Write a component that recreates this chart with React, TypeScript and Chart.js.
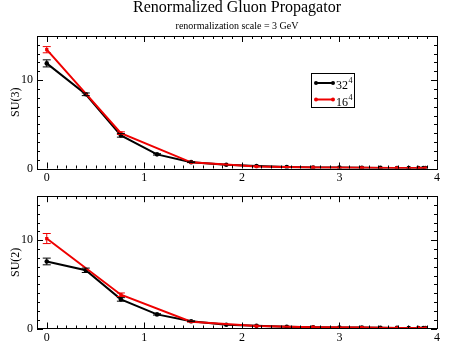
import React, { useEffect, useRef } from 'react';
import { Chart, registerables } from 'chart.js';

Chart.register(...registerables);

const FONT = "'Liberation Serif', 'DejaVu Serif', 'Times New Roman', serif";

const titleText = 'Renormalized Gluon Propagator';
const subtitleText = 'renormalization scale = 3 GeV';
const legendBases = ['32', '16'];
const legendSup = '4';

const xTicks = [0, 1, 2, 3, 4];
const yTicks = [0, 10];

// momenta for the two lattices
const momentum32 = [0, 0.4, 0.76, 1.13, 1.48, 1.84, 2.15, 2.46, 2.73, 3.0, 3.23, 3.42, 3.59, 3.71, 3.81, 3.86, 3.88];
const momentum16 = [0, 0.76, 1.48, 2.15, 2.73, 3.23, 3.59, 3.81, 3.88];

// SU(3)
const su3_32 = [11.9, 8.4, 3.75, 1.6, 0.72, 0.42, 0.27, 0.16, 0.12, 0.1, 0.08, 0.07, 0.06, 0.05, 0.05, 0.05, 0.05];
const su3_32_err = [0.4, 0.15, 0.2, 0.08, 0.04, 0, 0, 0, 0, 0, 0, 0, 0, 0, 0, 0, 0];
const su3_16 = [13.45, 4.0, 0.7, 0.22, 0.12, 0.08, 0.06, 0.05, 0.05];
const su3_16_err = [0.35, 0.15, 0.04, 0, 0, 0, 0, 0, 0];

// SU(2)
const su2_32 = [7.6, 6.6, 3.3, 1.6, 0.82, 0.42, 0.3, 0.2, 0.15, 0.12, 0.1, 0.08, 0.07, 0.06, 0.06, 0.05, 0.05];
const su2_32_err = [0.38, 0.25, 0.2, 0.08, 0.04, 0, 0, 0, 0, 0, 0, 0, 0, 0, 0, 0, 0];
const su2_16 = [10.2, 3.83, 0.77, 0.28, 0.15, 0.1, 0.07, 0.06, 0.05];
const su2_16_err = [0.57, 0.2, 0.05, 0, 0, 0, 0, 0, 0];

const BLACK = '#000000';
const RED = '#ee0000';

const decorPlugin = {
  id: 'decor',
  afterDatasetsDraw(chart: any, _args: any, opts: any) {
    const { ctx, chartArea: a, scales } = chart;
    const xs = scales.x;
    const ys = scales.y;
    ctx.save();
    // error bars
    chart.data.datasets.forEach((ds: any) => {
      const errs = ds.errors;
      if (!errs) return;
      ctx.strokeStyle = ds.borderColor;
      ctx.lineWidth = 1;
      ds.data.forEach((p: any, j: number) => {
        const e = errs[j];
        if (!e) return;
        const px = xs.getPixelForValue(p.x);
        const y1 = ys.getPixelForValue(p.y + e);
        const y2 = ys.getPixelForValue(p.y - e);
        ctx.beginPath();
        ctx.moveTo(px, y1);
        ctx.lineTo(px, y2);
        ctx.moveTo(px - 4, y1);
        ctx.lineTo(px + 4, y1);
        ctx.moveTo(px - 4, y2);
        ctx.lineTo(px + 4, y2);
        ctx.stroke();
      });
    });
    // frame
    ctx.strokeStyle = '#000';
    ctx.lineWidth = 1;
    ctx.strokeRect(Math.round(a.left) + 0.5, Math.round(a.top) + 0.5, Math.round(a.right - a.left), Math.round(a.bottom - a.top));
    // ticks
    ctx.beginPath();
    for (let i = 0; i <= 40; i++) {
      const v = i / 10;
      const len = i % 10 === 0 ? 6 : 3;
      const px = Math.round(xs.getPixelForValue(v)) + 0.5;
      ctx.moveTo(px, a.bottom);
      ctx.lineTo(px, a.bottom - len);
      ctx.moveTo(px, a.top);
      ctx.lineTo(px, a.top + len);
    }
    for (let i = 0; i <= 15; i++) {
      const len = i % 10 === 0 ? 6 : 3;
      const py = Math.round(ys.getPixelForValue(i)) + 0.5;
      ctx.moveTo(a.left, py);
      ctx.lineTo(a.left + len, py);
      ctx.moveTo(a.right, py);
      ctx.lineTo(a.right - len, py);
    }
    ctx.stroke();

    if (opts && opts.header) {
      ctx.fillStyle = '#000';
      ctx.textAlign = 'center';
      ctx.textBaseline = 'alphabetic';
      ctx.font = `16px ${FONT}`;
      ctx.fillText(titleText, (a.left + a.right) / 2, 12);
      ctx.font = `10px ${FONT}`;
      ctx.fillText(subtitleText, (a.left + a.right) / 2, 29);
    }
    if (opts && opts.legend) {
      const bx = 311, by = 73, bw = 43, bh = 34;
      ctx.lineWidth = 1;
      ctx.strokeStyle = '#000';
      ctx.strokeRect(bx + 0.5, by + 0.5, bw, bh);
      const rows = [
        { color: BLACK, y: 83, base: legendBases[0] },
        { color: RED, y: 99.5, base: legendBases[1] },
      ];
      rows.forEach((r) => {
        ctx.strokeStyle = r.color;
        ctx.fillStyle = r.color;
        ctx.lineWidth = 2;
        ctx.beginPath();
        ctx.moveTo(316, r.y);
        ctx.lineTo(333, r.y);
        ctx.stroke();
        [316, 333].forEach((cx) => {
          ctx.beginPath();
          ctx.arc(cx, r.y, 2, 0, Math.PI * 2);
          ctx.fill();
        });
        ctx.fillStyle = '#000';
        ctx.textAlign = 'left';
        ctx.textBaseline = 'alphabetic';
        ctx.font = `12px ${FONT}`;
        ctx.fillText(r.base, 336, r.y + 6);
        const w = ctx.measureText(r.base).width;
        ctx.font = `8px ${FONT}`;
        ctx.fillText(legendSup, 336 + w + 0.5, r.y);
      });
    }
    ctx.restore();
  },
};

function makeConfig(p: {
  yLabel: string;
  s32: number[];
  e32: number[];
  s16: number[];
  e16: number[];
  padTop: number;
  xAxisH: number;
  header: boolean;
  legend: boolean;
}): any {
  return {
    type: 'line',
    data: {
      datasets: [
        {
          label: '16^4',
          data: momentum16.map((x, i) => ({ x, y: p.s16[i] })),
          errors: p.e16,
          borderColor: RED,
          backgroundColor: RED,
          borderWidth: 2,
          pointStyle: 'rect',
          pointRadius: 2.3,
          pointBorderWidth: 0,
          tension: 0,
        },
        {
          label: '32^4',
          data: momentum32.map((x, i) => ({ x, y: p.s32[i] })),
          errors: p.e32,
          borderColor: BLACK,
          backgroundColor: BLACK,
          borderWidth: 2,
          pointStyle: 'circle',
          pointRadius: 2.3,
          pointBorderWidth: 0,
          tension: 0,
        },
      ],
    },
    options: {
      responsive: false,
      animation: false,
      devicePixelRatio: 1,
      layout: { padding: { top: p.padTop, right: 37, left: 0, bottom: 0 } },
      plugins: {
        legend: { display: false },
        tooltip: { enabled: false },
        decor: { header: p.header, legend: p.legend },
      },
      scales: {
        x: {
          type: 'linear',
          min: -0.1,
          max: 4,
          grid: { display: false, drawTicks: false },
          border: { display: false },
          ticks: { font: { family: FONT, size: 12 }, color: '#000', padding: 2, maxRotation: 0 },
          afterBuildTicks: (s: any) => {
            s.ticks = xTicks.map((v) => ({ value: v }));
          },
          afterFit: (s: any) => {
            s.height = p.xAxisH;
          },
        },
        y: {
          type: 'linear',
          min: 0,
          max: 15,
          grid: { display: false, drawTicks: false },
          border: { display: false },
          ticks: { font: { family: FONT, size: 12 }, color: '#000', padding: 4 },
          title: {
            display: true,
            text: p.yLabel,
            font: { family: FONT, size: 12 },
            color: '#000',
            padding: { top: 9, bottom: 0 },
          },
          afterBuildTicks: (s: any) => {
            s.ticks = yTicks.map((v) => ({ value: v }));
          },
          afterFit: (s: any) => {
            s.width = 37;
          },
        },
      },
    },
    plugins: [decorPlugin],
  };
}

function Panel(props: { cfg: any; top: number; height: number }) {
  const ref = useRef<HTMLCanvasElement | null>(null);
  useEffect(() => {
    if (!ref.current) return;
    const chart = new Chart(ref.current, props.cfg);
    return () => chart.destroy();
  }, []);
  return (
    <canvas
      ref={ref}
      width={474}
      height={props.height}
      style={{ position: 'absolute', left: 0, top: props.top, width: 474, height: props.height, display: 'block' }}
    />
  );
}

export default function App() {
  const topCfg = makeConfig({
    yLabel: 'SU(3)',
    s32: su3_32,
    e32: su3_32_err,
    s16: su3_16,
    e16: su3_16_err,
    padTop: 36,
    xAxisH: 16.5,
    header: true,
    legend: true,
  });
  const botCfg = makeConfig({
    yLabel: 'SU(2)',
    s32: su2_32,
    e32: su2_32_err,
    s16: su2_16,
    e16: su2_16_err,
    padTop: 11,
    xAxisH: 22.5,
    header: false,
    legend: false,
  });
  return (
    <div style={{ position: 'absolute', left: 0, top: 0, width: 474, height: 351, background: '#fff', overflow: 'hidden' }}>
      <Panel cfg={topCfg} top={0} height={185} />
      <Panel cfg={botCfg} top={185} height={166} />
    </div>
  );
}
